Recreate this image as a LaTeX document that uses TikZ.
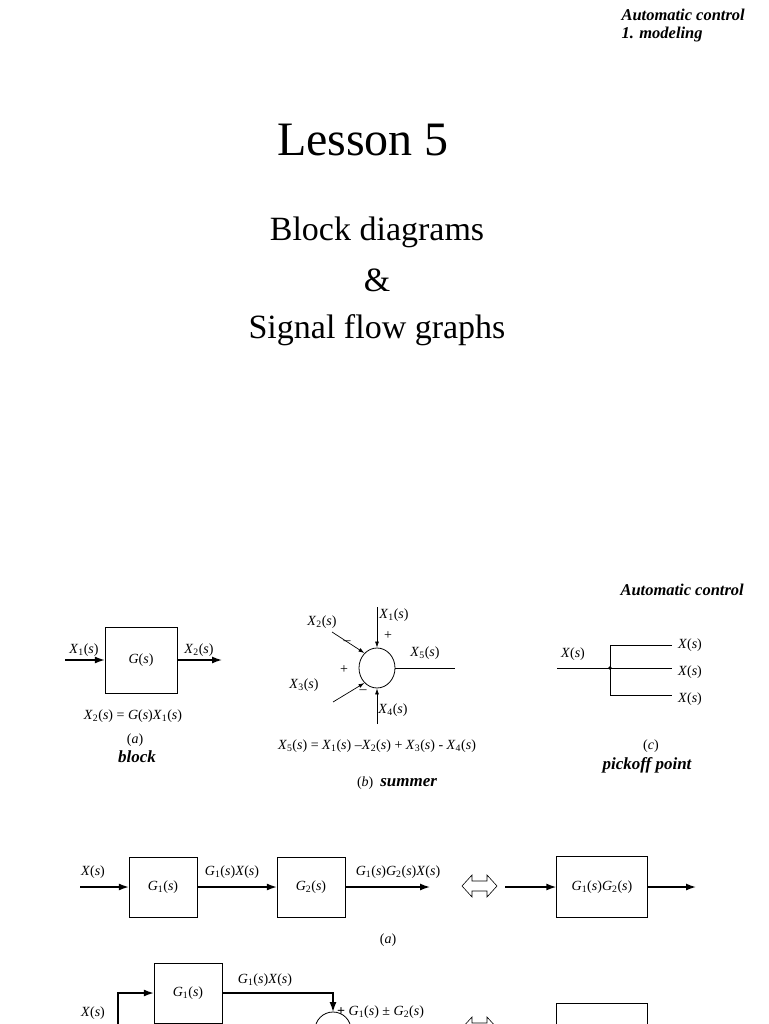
\documentclass[tikz,border=0pt]{standalone}
\usepackage{fontspec}
\setmainfont{Liberation Serif}
\usetikzlibrary{arrows.meta,shapes.geometric}
\newcommand{\Xs}[1]{\textit{X}\textsubscript{#1}(\textit{s})}
\newcommand{\Gs}[1]{\textit{G}\textsubscript{#1}(\textit{s})}
\newcommand{\XX}{\textit{X}(\textit{s})}
\begin{document}
\begin{tikzpicture}[x=1pt,y=-1pt,
  lbl/.style={font=\fontsize{14}{14}\selectfont,inner sep=0pt},
  hdr/.style={font=\fontsize{16.5}{16.5}\selectfont\bfseries\itshape,inner sep=0pt},
  captxt/.style={font=\fontsize{17}{17}\selectfont\bfseries\itshape,inner sep=0pt},
  blk/.style={draw,minimum width=#1,minimum height=60pt,inner sep=0pt,font=\fontsize{14}{14}\selectfont},
  sig/.style={-{Latex[length=10pt,width=7pt]},line width=1.4pt},
  thin/.style={-{Latex[length=6pt,width=4pt]},line width=0.7pt},
  dbl/.style={draw,line width=0.6pt,fill=white}]
\useasboundingbox (0,0) rectangle (768,1024);
\clip (0,0) rectangle (768,1024);
% header
\node[hdr,anchor=east] (h1) at (745,15) {Automatic control};
\node[hdr,anchor=west] (h2) at (h1.west |- 0,35) {1. modeling};
\node[font=\fontsize{48}{48}\selectfont] (t1) at (363,140) {Lesson 5};
\node[font=\fontsize{34}{34}\selectfont] (t2) at (377,232) {Block diagrams};
\node[font=\fontsize{34}{34}\selectfont] (t3) at (377,280) {\&};
\node[font=\fontsize{34}{34}\selectfont] (t4) at (377,330) {Signal flow graphs};
\node[hdr,anchor=east] (h3) at (744,590) {Automatic control};
% (a) block
\node[blk=72pt,minimum height=66pt] (G) at (141,660) {\textit{G}(\textit{s})};
\coordinate (ain) at (65,660); \coordinate (aout) at (222,660);
\draw[sig] (ain) -- (G.west);
\draw[sig] (G.east) -- (aout);
\node[lbl] (l1) at (84,650) {\Xs{1}};
\node[lbl] (l2) at (199,650) {\Xs{2}};
\node[lbl] (e1) at (133,716) {\Xs{2} = \textit{G}(\textit{s})\Xs{1}};
\node[lbl] (ca) at (135,740) {(\textit{a})};
\node[captxt] (cb) at (137,757) {block};
% (b) summer
\node[draw,ellipse,minimum width=36pt,minimum height=40pt,inner sep=0pt,line width=0.8pt] (S) at (377,668) {};
\coordinate (s1) at (377,607); \coordinate (s4) at (377,724);
\coordinate (s2) at (332,632); \coordinate (s3) at (333,702);
\coordinate (s5) at (455,668);
\draw[thin] (s1) -- (S.north);
\draw[thin] (s4) -- (S.south);
\draw[thin] (s2) -- (S.130);
\draw[thin] (s3) -- (S.230);
\draw[line width=0.7pt] (S.east) -- (s5);
\node[lbl] at (394,615) {\Xs{1}};
\node[lbl] at (388,636) {+};
\node[lbl] at (322,622) {\Xs{2}};
\node[lbl] at (347,643) {–};
\node[lbl] at (425,653) {\Xs{5}};
\node[lbl] at (344,670) {+};
\node[lbl] at (304,685) {\Xs{3}};
\node[lbl] at (363,692) {–};
\node[lbl] at (393,710) {\Xs{4}};
\node[lbl] at (377,746) {\Xs{5} = \Xs{1} –\Xs{2} + \Xs{3} - \Xs{4}};
\node[lbl] (cbb) at (397,783) {(\textit{b})\enspace\fontsize{17}{17}\selectfont\bfseries\itshape summer};
% (c) pickoff
\coordinate (pin) at (557,668); \coordinate (p) at (610,668);
\coordinate (pt) at (672,645); \coordinate (pm) at (672,668); \coordinate (pb) at (672,695);
\draw[line width=0.7pt] (pin) -- (pm);
\draw[line width=0.7pt] (pt) -| (610,695) -- (pb);
\fill (p) circle (1.8pt);
\node[lbl] at (573,654) {\XX};
\node[lbl] at (690,645) {\XX};
\node[lbl] at (690,672) {\XX};
\node[lbl] at (690,699) {\XX};
\node[lbl] at (651,746) {(\textit{c})};
\node[captxt] at (647,765) {pickoff point};
% lower (a) cascade
\node[blk=68pt] (G1) at (163,887) {\Gs{1}};
\node[blk=68pt] (G2) at (311,887) {\Gs{2}};
\node[blk=91pt,minimum height=61pt] (G12) at (602,887) {\Gs{1}\Gs{2}};
\coordinate (cin) at (80,887); \coordinate (cout) at (430,887);
\coordinate (din) at (505,887); \coordinate (dout) at (696,887);
\draw[sig] (cin) -- (G1.west);
\draw[sig] (G1.east) -- (G2.west);
\draw[sig] (G2.east) -- (cout);
\draw[sig] (din) -- (G12.west);
\draw[sig] (G12.east) -- (dout);
\draw[dbl] (462,886) -- (472,875) -- (472,881) -- (487,881) -- (487,875) -- (497,886)
  -- (487,897) -- (487,891) -- (472,891) -- (472,897) -- cycle;
\node[lbl] at (93,872) {\XX};
\node[lbl] at (232,872) {\Gs{1}\XX};
\node[lbl] at (398,872) {\Gs{1}\Gs{2}\XX};
\node[lbl] at (388,940) {(\textit{a})};
% lower (b) partial
\node[blk=68pt] (H1) at (188,993) {\Gs{1}};
\coordinate (bx) at (118,1030);
\coordinate (sj) at (333,1012);
\draw[sig] (bx) |- (H1.west);
\draw[sig] (H1.east) -| (sj);
\draw[line width=0.8pt] (333,1030) circle (18pt);
\node[blk=91pt,minimum height=61pt] (H12) at (602,1034) {};
\node[lbl] at (93,1013) {\XX};
\node[lbl] at (265,980) {\Gs{1}\XX};
\node[lbl,anchor=west] at (337,1012) {\textbf{+} \Gs{1} ± \Gs{2}};
\draw[dbl] (462,1028) -- (472,1017) -- (472,1023) -- (487,1023) -- (487,1017) -- (497,1028);
\end{tikzpicture}
\end{document}
